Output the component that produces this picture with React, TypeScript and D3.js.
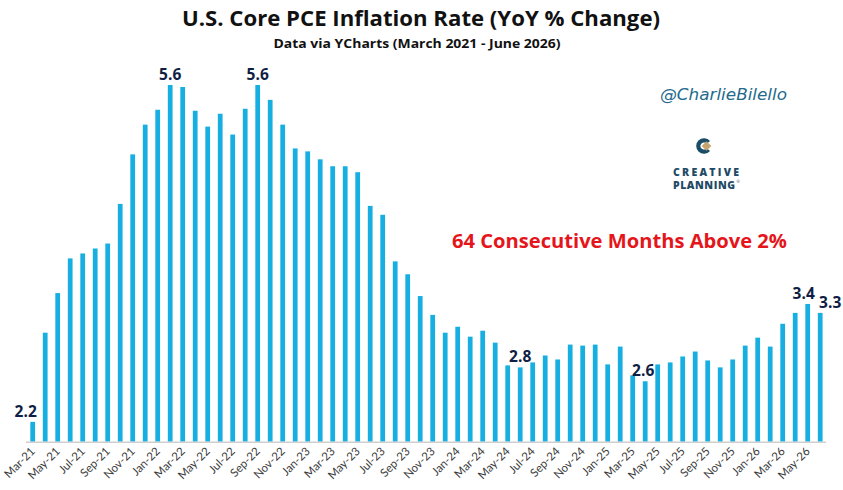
import React from "react";
import * as d3 from "d3";

const W = 843;
const H = 490;

const startMonth = new Date(2021, 2, 1);
const endMonth = new Date(2026, 6, 1);
const fmt = d3.timeFormat("%b-%y");
const months: string[] = d3.timeMonth.range(startMonth, endMonth).map((d) => fmt(d));

const coreValues: number[] = [
  // 2021 Mar-Dec
  2.2, 3.1, 3.5, 3.85, 3.9, 3.95, 4.0, 4.4, 4.9, 5.2,
  // 2022
  5.35, 5.6, 5.58, 5.34, 5.18, 5.31, 5.1, 5.36, 5.6, 5.45, 5.2, 4.96,
  // 2023
  4.93, 4.85, 4.78, 4.78, 4.72, 4.38, 4.29, 3.82, 3.69, 3.47, 3.28, 3.1,
  // 2024
  3.16, 3.06, 3.12, 3.0, 2.77, 2.75, 2.8, 2.87, 2.83, 2.98, 2.97, 2.98,
  // 2025
  2.78, 2.96, 2.67, 2.61, 2.78, 2.8, 2.86, 2.91, 2.82, 2.75, 2.83, 2.97,
  // 2026 Jan-Jun
  3.05, 2.96, 3.19, 3.3, 3.39, 3.3,
];

const labelMonths: string[] = ["Mar-21", "Feb-22", "Sep-22", "Jun-24", "Apr-25", "May-26", "Jun-26"];
const labelTexts: string[] = ["2.2", "5.6", "5.6", "2.8", "2.6", "3.4", "3.3"];

const yDomain: [number, number] = [2.0, 5.6];

const BAR = "#17afe2";
const NAVY = "#0f1e45";

export default function App() {
  const x = d3
    .scaleBand<string>()
    .domain(months)
    .range([26.45, 826.45])
    .paddingInner(0.62)
    .paddingOuter(0.31);
  const y = d3.scaleLinear().domain(yDomain).range([441.7, 85]);
  const bw = x.bandwidth();
  const cx = (m: string) => (x(m) as number) + bw / 2;
  const tickMonths = months.filter((_, i) => i % 2 === 0);

  return (
    <svg
      width={W}
      height={H}
      viewBox={`0 0 ${W} ${H}`}
      style={{ position: "absolute", left: 0, top: 0, background: "#fff", display: "block" }}
    >
      <rect x={0} y={0} width={W} height={H} fill="#fff" />
      <text
        x={421}
        y={26}
        textAnchor="middle"
        fontFamily="'Open Sans', sans-serif"
        fontWeight={700}
        fontSize={21}
        fill="#111"
        textLength={478}
        lengthAdjust="spacingAndGlyphs"
      >
        U.S. Core PCE Inflation Rate (YoY % Change)
      </text>
      <text
        x={417}
        y={47.5}
        textAnchor="middle"
        fontFamily="'Open Sans', sans-serif"
        fontWeight={700}
        fontSize={12}
        fill="#111"
        textLength={287}
        lengthAdjust="spacingAndGlyphs"
      >
        Data via YCharts (March 2021 - June 2026)
      </text>

      {/* bars */}
      <g>
        {months.map((m, i) => (
          <rect
            key={m}
            x={x(m)}
            y={y(coreValues[i])}
            width={bw}
            height={y(yDomain[0]) - y(coreValues[i])}
            fill={BAR}
          />
        ))}
      </g>

      {/* baseline */}
      <line x1={26} x2={826} y1={442.2} y2={442.2} stroke="#cfcfcf" strokeWidth={1.5} />

      {/* x labels */}
      <g>
        {tickMonths.map((m) => (
          <text
            key={m}
            transform={`translate(${cx(m) + 3},${452}) rotate(-45)`}
            textAnchor="end"
            fontFamily="Lato, 'Open Sans', sans-serif"
            fontSize={11.5}
            fill="#3a3a3a"
          >
            {m}
          </text>
        ))}
      </g>

      {/* value labels */}
      <g>
        {labelMonths.map((m, k) => {
          const i = months.indexOf(m);
          let dx = 0;
          if (i === 0) dx = -7;
          else if (i === months.length - 1) dx = 10;
          else if (i === months.length - 2) dx = -4;
          else if (m === "Apr-25") dx = -2;
          return (
            <text
              key={m}
              x={cx(m) + dx}
              y={y(coreValues[i]) - 5}
              textAnchor="middle"
              fontFamily="'Open Sans', sans-serif"
              fontWeight={700}
              fontSize={15.5}
              fill={NAVY}
            >
              {labelTexts[k]}
            </text>
          );
        })}
      </g>

      {/* annotation */}
      <text
        x={619.5}
        y={248}
        textAnchor="middle"
        fontFamily="'Open Sans', sans-serif"
        fontWeight={700}
        fontSize={19}
        fill="#e5161b"
        textLength={335}
        lengthAdjust="spacingAndGlyphs"
      >
        64 Consecutive Months Above 2%
      </text>

      {/* handle */}
      <text
        x={723.5}
        y={100}
        textAnchor="middle"
        fontFamily="'DejaVu Sans', sans-serif"
        fontStyle="italic"
        fontSize={15}
        fill="#236a8c"
        textLength={127}
        lengthAdjust="spacingAndGlyphs"
      >
        @CharlieBilello
      </text>

      {/* logo */}
      <g>
        <path
          d={d3.arc()({
            innerRadius: 3.6,
            outerRadius: 7.8,
            startAngle: Math.PI * 0.72,
            endAngle: Math.PI * 2.28,
          }) as string}
          transform="translate(704,146)"
          fill="#1c4d68"
        />
        <rect x={-3.4} y={-3.4} width={6.8} height={6.8} transform="translate(706.5,146) rotate(45)" fill="#c5a46f" />
        <text
          x={706}
          y={176}
          textAnchor="middle"
          fontFamily="'Open Sans', sans-serif"
          fontWeight={800}
          fontSize={10.5}
          fill="#1f4a66"
          textLength={66}
          lengthAdjust="spacing"
        >
          CREATIVE
        </text>
        <text
          x={704}
          y={189}
          textAnchor="middle"
          fontFamily="'Open Sans', sans-serif"
          fontWeight={800}
          fontSize={10.5}
          fill="#1f4a66"
          textLength={62}
          lengthAdjust="spacing"
        >
          PLANNING
        </text>
        <text x={736.5} y={183} fontFamily="'Open Sans', sans-serif" fontSize={4} fill="#1f4a66">
          ®
        </text>
      </g>
    </svg>
  );
}
